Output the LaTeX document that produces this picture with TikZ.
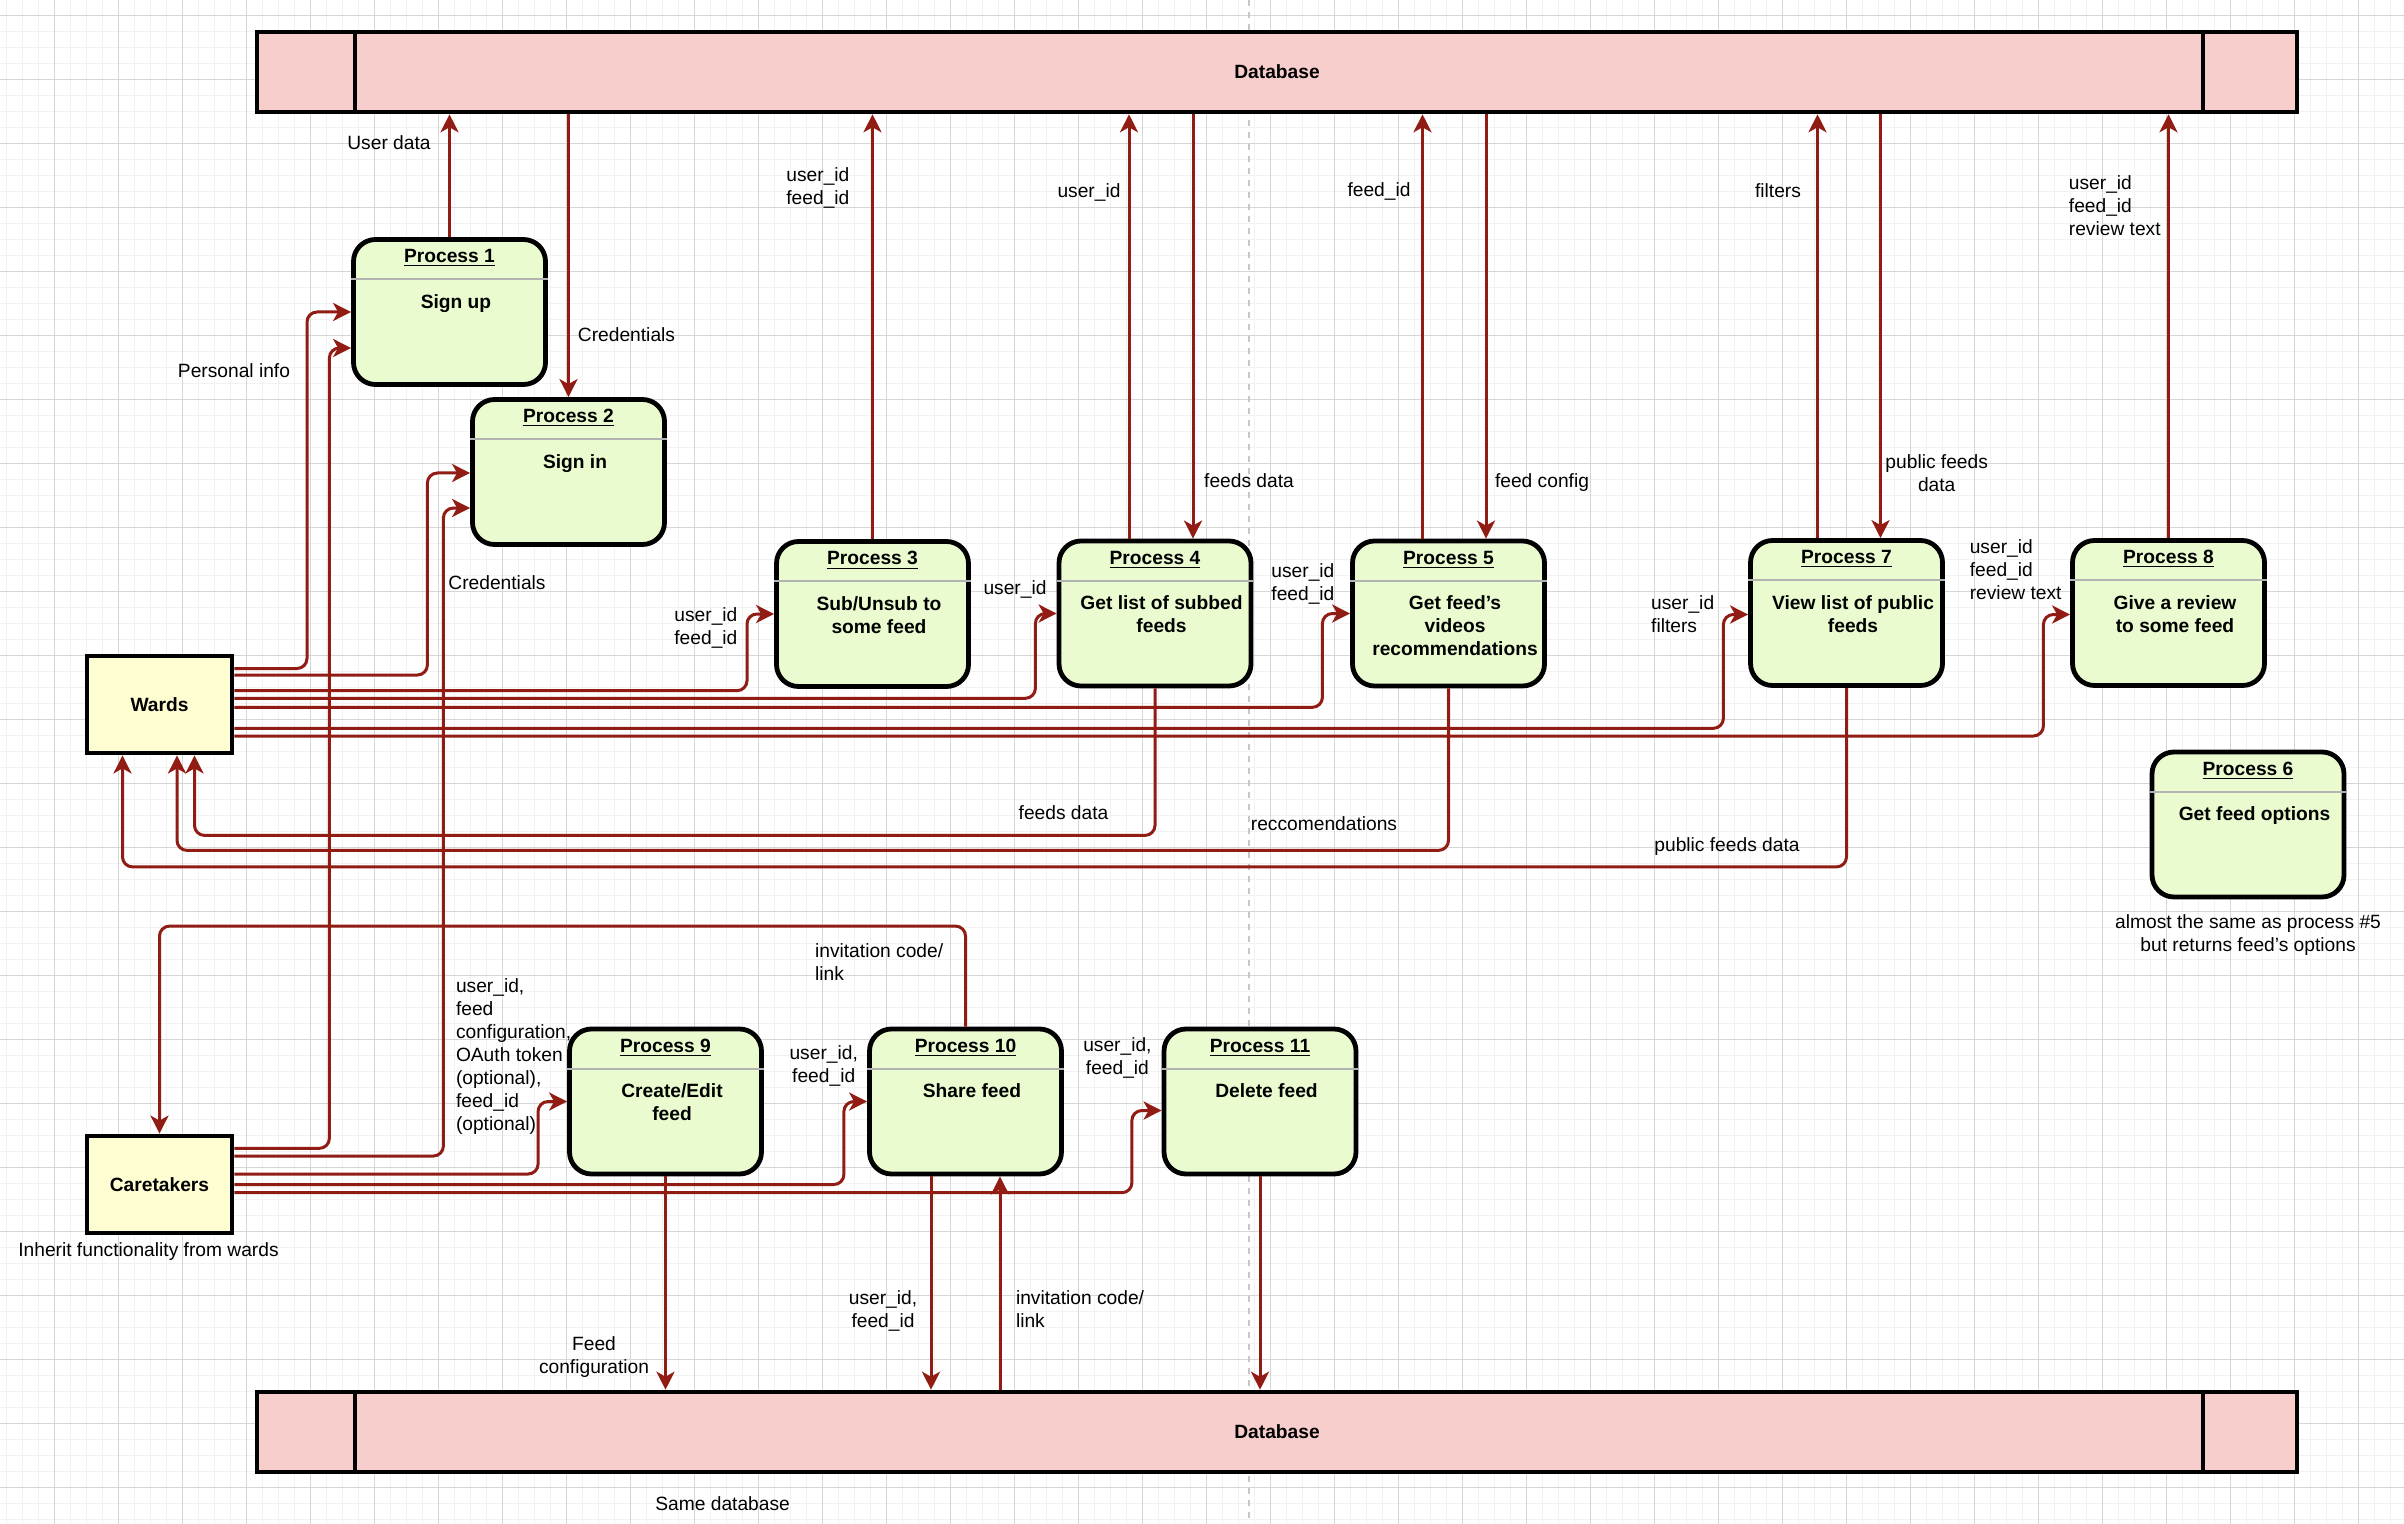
\documentclass[tikz,border=0pt]{standalone}
\usepackage{fontspec}
\setmainfont{Liberation Sans}
\usepackage{tikz}
\usetikzlibrary{arrows.meta,calc,positioning}
\definecolor{flowcolor}{RGB}{145,28,20}
\definecolor{storecolor}{RGB}{248,206,204}
\definecolor{proccolor}{RGB}{234,251,208}
\definecolor{entcolor}{RGB}{255,253,210}
\definecolor{minorcolor}{RGB}{242,242,242}
\definecolor{majorcolor}{RGB}{214,214,214}

% one process box: name, position, number, task
\newcommand{\procbox}[4]{%
  \node[proc] (#1) at (#2) {};
  \draw[procsplit] ($(#1.north west)+(0,42)$) -- ($(#1.north east)+(0,42)$);
  \node[proctitle] (#1t) at ($(#1.north)+(0,12)$) {\underline{Process #3}};
  \node[proctask] (#1b) at ($(#1.north)+(6.5,57)$) {#4};
}

\begin{document}
\begin{tikzpicture}[%
    x=0.5pt, y=-0.5pt,           % units are pixels of the sketch
    >={Stealth[length=9pt,width=9pt,inset=2.5pt]},
    font=\fontsize{9.6}{11.5}\selectfont,
    ]
\tikzset{
  minorgrid/.style={draw=minorcolor, line width=0.5pt},
  majorgrid/.style={draw=majorcolor, line width=0.6pt},
  pagebreak/.style={draw=gray!45, line width=0.75pt, dash pattern=on 3pt off 3pt},
  store/.style={draw, line width=2.3pt, fill=storecolor, minimum width=1020pt, minimum height=40pt, inner sep=0, font=\fontsize{9.6}{11.5}\selectfont\bfseries},
  storeline/.style={draw, line width=2pt},
  entity/.style={draw, line width=2.4pt, fill=entcolor, minimum width=72.5pt, minimum height=48.5pt, inner sep=0, font=\fontsize{9.6}{11.5}\selectfont\bfseries},
  proc/.style={draw, line width=2.4pt, fill=proccolor, rounded corners=11pt, minimum width=96pt, minimum height=72.5pt, inner sep=0},
  procsplit/.style={draw=gray!60, line width=1pt},
  proctitle/.style={anchor=north, inner sep=0, font=\fontsize{9.6}{11.5}\selectfont\bfseries},
  proctask/.style={anchor=north, inner sep=0, align=center, font=\fontsize{9.6}{11.5}\selectfont\bfseries},
  lbl/.style={inner sep=0, align=left},
  clbl/.style={inner sep=0, align=center, anchor=north},
  flow/.style={draw=flowcolor, line width=1.5pt, rounded corners=5pt, ->},
}

% canvas
\useasboundingbox (0,0) rectangle (2404,1524);
\fill[white] (0,0) rectangle (2404,1524);
\foreach \i in {0,...,149} \draw[minorgrid] ({6.6+16*\i},0) -- ({6.6+16*\i},1524);
\foreach \i in {0,...,95} \draw[minorgrid] (0,{-0.8+16*\i}) -- (2404,{-0.8+16*\i});
\foreach \i in {0,...,36} \draw[majorgrid] ({54.6+64*\i},0) -- ({54.6+64*\i},1524);
\foreach \i in {0,...,23} \draw[majorgrid] (0,{15.2+64*\i}) -- (2404,{15.2+64*\i});
\draw[pagebreak] (1249,0) -- (1249,1524);

% data stores
\node[store] (dbtop) at (1277,72) {Database};
\draw[storeline] ($(dbtop.north west)+(100,0)$) -- ($(dbtop.south west)+(100,0)$);
\draw[storeline] ($(dbtop.north east)+(-96,0)$) -- ($(dbtop.south east)+(-96,0)$);
\node[store] (dbbottom) at (1277,1432) {Database};
\draw[storeline] ($(dbbottom.north west)+(100,0)$) -- ($(dbbottom.south west)+(100,0)$);
\draw[storeline] ($(dbbottom.north east)+(-96,0)$) -- ($(dbbottom.south east)+(-96,0)$);

% external entities
\node[entity] (wards) at (159.5,704.5) {Wards};
\node[entity] (caretakers) at (159.5,1184.5) {Caretakers};

% processes
\procbox{p1}{449.5,312}{1}{Sign up}
\procbox{p2}{568.5,472}{2}{Sign in}
\procbox{p3}{872.5,614}{3}{Sub/Unsub to\\some feed}
\procbox{p4}{1155,613.5}{4}{Get list of subbed\\feeds}
\procbox{p5}{1448.5,613.5}{5}{Get feed's\\videos\\recommendations}
\procbox{p7}{1846.5,613}{7}{View list of public\\feeds}
\procbox{p8}{2168.5,613}{8}{Give a review\\to some feed}
\procbox{p6}{2248,824.5}{6}{Get feed options}
\procbox{p9}{665.5,1101.5}{9}{Create/Edit\\feed}
\procbox{p10}{965.5,1101.5}{10}{Share feed}
\procbox{p11}{1260,1101.5}{11}{Delete feed}

% flows to and from the top store
\draw[flow] (p1.north) -- (p1.north |- dbtop.south);
\draw[flow] (p2.north |- dbtop.south) -- (p2.north);
\draw[flow] (p3.north) -- (p3.north |- dbtop.south);
\draw[flow] ($(p4.north)+(-26,0)$) -- ($(p4.north |- dbtop.south)+(-26,0)$);
\draw[flow] ($(p4.north |- dbtop.south)+(38,0)$) -- ($(p4.north)+(38,0)$);
\draw[flow] ($(p5.north)+(-26,0)$) -- ($(p5.north |- dbtop.south)+(-26,0)$);
\draw[flow] ($(p5.north |- dbtop.south)+(37.5,0)$) -- ($(p5.north)+(37.5,0)$);
\draw[flow] ($(p7.north)+(-29,0)$) -- ($(p7.north |- dbtop.south)+(-29,0)$);
\draw[flow] ($(p7.north |- dbtop.south)+(34,0)$) -- ($(p7.north)+(34,0)$);
\draw[flow] (p8.north) -- (p8.north |- dbtop.south);

% flows from wards
\draw[flow] ($(wards.east)+(0,-36)$) -- ++(72.6,0) |- (p1.west);
\draw[flow] ($(wards.east)+(0,-29.5)$) -- ++(193,0) |- ($(p2.west)+(0,1)$);
\draw[flow] ($(wards.east)+(0,-13.8)$) -- ++(512.6,0) |- (p3.west);
\draw[flow] ($(wards.east)+(0,-6.2)$) -- ++(801,0) |- (p4.west);
\draw[flow] ($(wards.east)+(0,2.8)$) -- ++(1088,0) |- (p5.west);
\draw[flow] ($(wards.east)+(0,23.8)$) -- ++(1489,0) |- ($(p7.west)+(0,1.5)$);
\draw[flow] ($(wards.east)+(0,31.5)$) -- ++(1809,0) |- ($(p8.west)+(0,1.5)$);

% flows back to wards
\draw[flow] (p4.south) |- ($(wards.south)+(35,80)$) -- ($(wards.south)+(35,0)$);
\draw[flow] (p5.south) |- ($(wards.south)+(17.5,95)$) -- ($(wards.south)+(17.5,0)$);
\draw[flow] (p7.south) |- ($(wards.south)+(-37,111.5)$) -- ($(wards.south)+(-37,0)$);

% flows from caretakers
\draw[flow] ($(caretakers.east)+(0,-36.2)$) -- ++(95,0) |- ($(p1.west)+(0,36)$);
\draw[flow] ($(caretakers.east)+(0,-28.5)$) -- ++(209,0) |- ($(p2.west)+(0,36)$);
\draw[flow] ($(caretakers.east)+(0,-10.5)$) -- ++(303.7,0) |- (p9.west);
\draw[flow] (caretakers.east) -- ++(609.5,0) |- (p10.west);
\draw[flow] ($(caretakers.east)+(0,8.2)$) -- ++(897.5,0) |- ($(p11.west)+(0,9)$);
\draw[flow] (p10.north) |- ($(caretakers.north)+(0,-207.5)$) -- (caretakers.north);

% flows to and from the bottom store
\draw[flow] (p9.south) -- (p9.south |- dbbottom.north);
\draw[flow] ($(p10.south)+(-34.5,0)$) -- ($(p10.south |- dbbottom.north)+(-34.5,0)$);
\draw[flow] ($(p10.south |- dbbottom.north)+(34.5,0)$) -- ($(p10.south)+(34.5,0)$);
\draw[flow] (p11.south) -- (p11.south |- dbbottom.north);

% labels
\node[lbl, anchor=north] (lUserData) at (389,135) {User data};
\node[lbl, anchor=north] (lCredUp) at (626.5,327) {Credentials};
\node[lbl, anchor=north] (lPersonal) at (234,363) {Personal info};
\node[lbl, anchor=north] (lCredLow) at (497,575.5) {Credentials};
\node[lbl, anchor=north west] (lIdsUpP3) at (786,167.6) {user\_id\\feed\_id};
\node[lbl, anchor=north] (lIdUpP4) at (1089,183.5) {user\_id};
\node[lbl, anchor=north] (lFeedUpP5) at (1379,182.5) {feed\_id};
\node[lbl, anchor=north] (lFilters) at (1778,183.6) {filters};
\node[lbl, anchor=north west] (lReviewUp) at (2068.5,175) {user\_id\\feed\_id\\review text};
\node[lbl, anchor=north] (lFeedsDown) at (1249,473.5) {feeds data};
\node[lbl, anchor=north] (lConfig) at (1542,473) {feed config};
\node[clbl] (lPublicDown) at (1936.7,454.6) {public feeds\\data};
\node[lbl, anchor=north west] (lIdsInP3) at (674,607.6) {user\_id\\feed\_id};
\node[lbl, anchor=north] (lIdInP4) at (1015,580) {user\_id};
\node[lbl, anchor=north west] (lIdsInP5) at (1271,563) {user\_id\\feed\_id};
\node[lbl, anchor=north west] (lFiltersIn) at (1650.8,594.8) {user\_id\\filters};
\node[lbl, anchor=north west] (lReviewIn) at (1969.4,539.4) {user\_id\\feed\_id\\review text};
\node[lbl, anchor=north] (lFeedsBack) at (1063.5,804.7) {feeds data};
\node[lbl, anchor=north] (lRecs) at (1324,815.7) {reccomendations};
\node[lbl, anchor=north] (lPublicBack) at (1727,837) {public feeds data};
\node[clbl] (lP6Note) at (2248,913.7) {almost the same as process \#5\\but returns feed's options};
\node[lbl, anchor=north west] (lInviteUp) at (814.7,943) {invitation code/\\link};
\node[lbl, anchor=north west] (lCreate) at (455.6,978) {user\_id,\\feed\\configuration,\\OAuth token\\(optional),\\feed\_id\\(optional)};
\node[clbl] (lIdsInP10) at (823.7,1044.7) {user\_id,\\feed\_id};
\node[clbl] (lIdsInP11) at (1117.4,1037) {user\_id,\\feed\_id};
\node[lbl, anchor=north] (lInherit) at (148.5,1242) {Inherit functionality from wards};
\node[clbl] (lFeedConf) at (594,1336) {Feed\\configuration};
\node[clbl] (lIdsDown) at (883,1289.7) {user\_id,\\feed\_id};
\node[lbl, anchor=north west] (lInviteDown) at (1015.6,1289.7) {invitation code/\\link};
\node[lbl, anchor=north] (lSameDb) at (722.6,1495.7) {Same database};

\end{tikzpicture}
\end{document}
